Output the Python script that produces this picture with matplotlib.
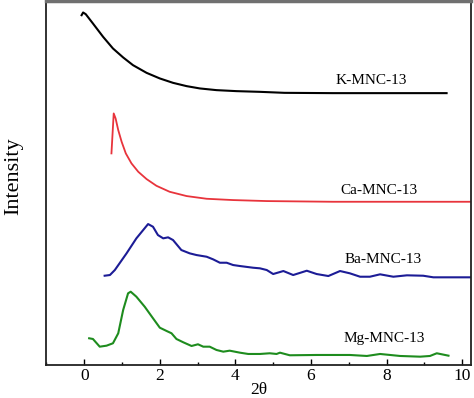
import matplotlib
matplotlib.use("Agg")
import matplotlib.pyplot as plt
from matplotlib.ticker import MultipleLocator

plt.rcParams["font.family"] = ["Liberation Serif", "DejaVu Serif"]

# values (intensity in arbitrary units)
k_x = [-0.07, -0.03, 0.04, 0.23, 0.50, 0.76, 1.03, 1.29, 1.65, 2.0, 2.35, 2.71,
       3.06, 3.50, 4.03, 4.65, 5.30, 6.58, 9.59]
k_y = [350, 352.7, 351, 341.7, 328.3, 316.7, 307.7, 300, 292.3, 286.7, 282.3, 279,
       276.7, 275, 274, 273.3, 272.3, 272, 272]

ca_x = [0.72, 0.78, 0.83, 0.90, 0.99, 1.10, 1.25, 1.43, 1.65, 1.91, 2.26, 2.71,
        3.24, 3.94, 4.83, 6.58, 10.21]
ca_y = [211.7, 251.7, 246.7, 235, 223.3, 211.7, 201.7, 193.3, 186, 179.3, 173.3, 169,
        166.3, 165, 164, 163.3, 163.3]

ba_x = [0.54, 0.68, 0.81, 1.12, 1.38, 1.69, 1.82, 1.95, 2.09, 2.22, 2.35, 2.57,
        2.79, 2.97, 3.24, 3.41, 3.59, 3.77, 3.94, 4.12, 4.47, 4.65, 4.83, 5.00,
        5.27, 5.53, 5.89, 6.15, 6.46, 6.77, 7.03, 7.30, 7.56, 7.83, 8.18, 8.54,
        8.97, 9.24, 10.21]
ba_y = [89.3, 90, 95, 111.7, 126.7, 141, 138.3, 130, 126.7, 127.7, 125, 115,
        111.7, 110, 108.3, 105.7, 102.3, 102.3, 100, 99, 97.3, 96.7, 95, 91,
        94, 90, 94.3, 91, 89, 94, 91.7, 88.3, 88.3, 90.7, 88.3, 89.7,
        89.3, 87.7, 87.7]

mg_x = [0.13, 0.23, 0.41, 0.59, 0.76, 0.90, 1.03, 1.16, 1.23, 1.38, 1.60, 1.82,
        2.0, 2.18, 2.31, 2.44, 2.62, 2.84, 3.01, 3.15, 3.32, 3.50, 3.68, 3.85,
        4.12, 4.34, 4.65, 4.91, 5.09, 5.18, 5.44, 6.15, 7.03, 7.48, 7.83, 8.36,
        8.89, 9.15, 9.33, 9.64]
mg_y = [26.7, 26, 18.3, 19.3, 21.7, 31.7, 55, 71.7, 73.3, 68.3, 58.3, 46.7,
        37.3, 34, 31.7, 26, 22.7, 19, 20.7, 18.3, 18.3, 15, 13.3, 14.3,
        12.3, 11, 11, 11.7, 11, 12.3, 9.7, 10, 10, 9, 11, 9,
        8.3, 9, 11.7, 9.3]

labels = ["K-MNC-13", "Ca-MNC-13", "Ba-MNC-13", "Mg-MNC-13"]
label_x = [7.6, 7.8, 7.9, 7.95]
label_y = [285, 175, 106, 26]

fig = plt.figure(figsize=(4.74, 3.98), dpi=100)
ax = fig.add_axes([0.098, 0.083, 0.896, 0.914])

ax.plot(k_x, k_y, color="black", lw=1.5, solid_joinstyle="round")
ax.plot(ca_x, ca_y, color="#e8343c", lw=1.3, solid_joinstyle="round")
ax.plot(ba_x, ba_y, color="#1c1c96", lw=1.5, solid_joinstyle="round")
ax.plot(mg_x, mg_y, color="#1e8c1e", lw=1.5, solid_joinstyle="round")

for name, lx, ly in zip(labels, label_x, label_y):
    ax.text(lx, ly, name, fontsize=11, ha="center", va="center")

ax.set_xlim(-1.0, 10.24)
ax.set_ylim(0, 364)
ax.xaxis.set_major_locator(MultipleLocator(2))
ax.xaxis.set_minor_locator(MultipleLocator(1))
ax.tick_params(axis="x", which="major", direction="in", length=4, width=1, labelsize=12.5, pad=2)
ax.tick_params(axis="x", which="minor", direction="in", length=2.5, width=1)
ax.set_yticks([])
ax.set_xlabel("2θ", fontsize=12.5, labelpad=-1)
fig.text(14 / 474, 1 - 176 / 398, "Intensity", fontsize=16, rotation=90,
         ha="center", va="center")

ax.spines["top"].set_color("#707070")
ax.spines["top"].set_linewidth(2.5)
for s in ["left", "right", "bottom"]:
    ax.spines[s].set_color("#222222")
    ax.spines[s].set_linewidth(1.3)

fig.savefig("out.png", dpi=100)
